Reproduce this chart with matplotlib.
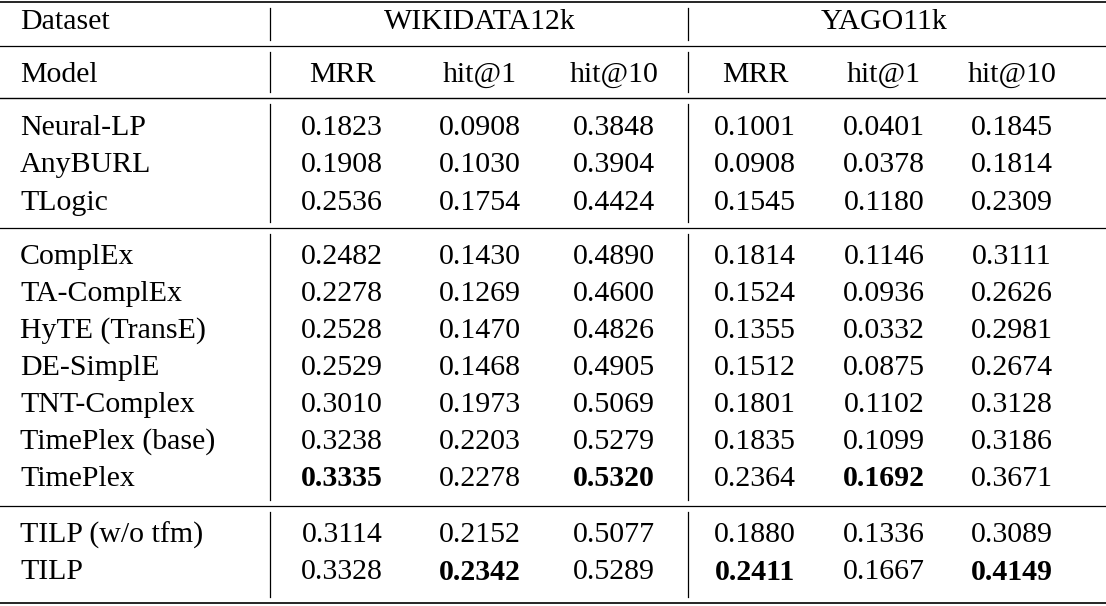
import matplotlib.pyplot as plt

models = ["Neural-LP", "AnyBURL", "TLogic",
          "ComplEx", "TA-ComplEx", "HyTE (TransE)", "DE-SimplE", "TNT-Complex",
          "TimePlex (base)", "TimePlex",
          "TILP (w/o tfm)", "TILP"]
wiki = [
    ["0.1823", "0.0908", "0.3848"],
    ["0.1908", "0.1030", "0.3904"],
    ["0.2536", "0.1754", "0.4424"],
    ["0.2482", "0.1430", "0.4890"],
    ["0.2278", "0.1269", "0.4600"],
    ["0.2528", "0.1470", "0.4826"],
    ["0.2529", "0.1468", "0.4905"],
    ["0.3010", "0.1973", "0.5069"],
    ["0.3238", "0.2203", "0.5279"],
    ["0.3335", "0.2278", "0.5320"],
    ["0.3114", "0.2152", "0.5077"],
    ["0.3328", "0.2342", "0.5289"],
]
yago = [
    ["0.1001", "0.0401", "0.1845"],
    ["0.0908", "0.0378", "0.1814"],
    ["0.1545", "0.1180", "0.2309"],
    ["0.1814", "0.1146", "0.3111"],
    ["0.1524", "0.0936", "0.2626"],
    ["0.1355", "0.0332", "0.2981"],
    ["0.1512", "0.0875", "0.2674"],
    ["0.1801", "0.1102", "0.3128"],
    ["0.1835", "0.1099", "0.3186"],
    ["0.2364", "0.1692", "0.3671"],
    ["0.1880", "0.1336", "0.3089"],
    ["0.2411", "0.1667", "0.4149"],
]
# (row, col) of bold cells; cols 0-2 wiki, 3-5 yago
bold = {(9, 0), (9, 2), (11, 1), (9, 4), (11, 3), (11, 5)}
metrics = ["MRR", "hit@1", "hit@10"]

plt.rcParams["font.family"] = ["Liberation Serif", "DejaVu Serif"]
fig = plt.figure(figsize=(11.06, 6.06), dpi=100)
ax = fig.add_axes([0, 0, 1, 1])
ax.set_xlim(0, 1106)
ax.set_ylim(606, 0)
ax.axis("off")

fs = 21.5
col_x = [342, 480, 614, 755, 884, 1012]
row_y = [128, 165, 203, 257, 294, 331, 368, 405, 442, 479, 535, 572]
hlines = [(2, 1.2), (46, 0.9), (98, 1.0), (228, 0.9), (506, 0.9), (603, 1.2)]
vx = [270, 688]

for y, lw in hlines:
    ax.plot([0, 1106], [y, y], color="black", lw=lw)
for a, b in [(8, 40), (52, 92), (104, 222), (234, 500), (512, 597)]:
    for x in vx:
        ax.plot([x, x], [a, b], color="black", lw=0.9)

ax.text(20, 22, "Dataset", fontsize=fs, va="center")
ax.text(480, 22, "WIKIDATA12k", fontsize=fs, va="center", ha="center")
ax.text(884, 22, "YAGO11k", fontsize=fs, va="center", ha="center")
ax.text(20, 75, "Model", fontsize=fs, va="center")
for x, m in zip(col_x, metrics * 2):
    ax.text(x, 75, m, fontsize=fs, va="center", ha="center")

for i, (name, y) in enumerate(zip(models, row_y)):
    ax.text(20, y, name, fontsize=fs, va="center")
    for j, v in enumerate(wiki[i] + yago[i]):
        ax.text(col_x[j], y, v, fontsize=fs, va="center", ha="center",
                fontweight="bold" if (i, j) in bold else "normal")

fig.savefig("out.png", dpi=100)
